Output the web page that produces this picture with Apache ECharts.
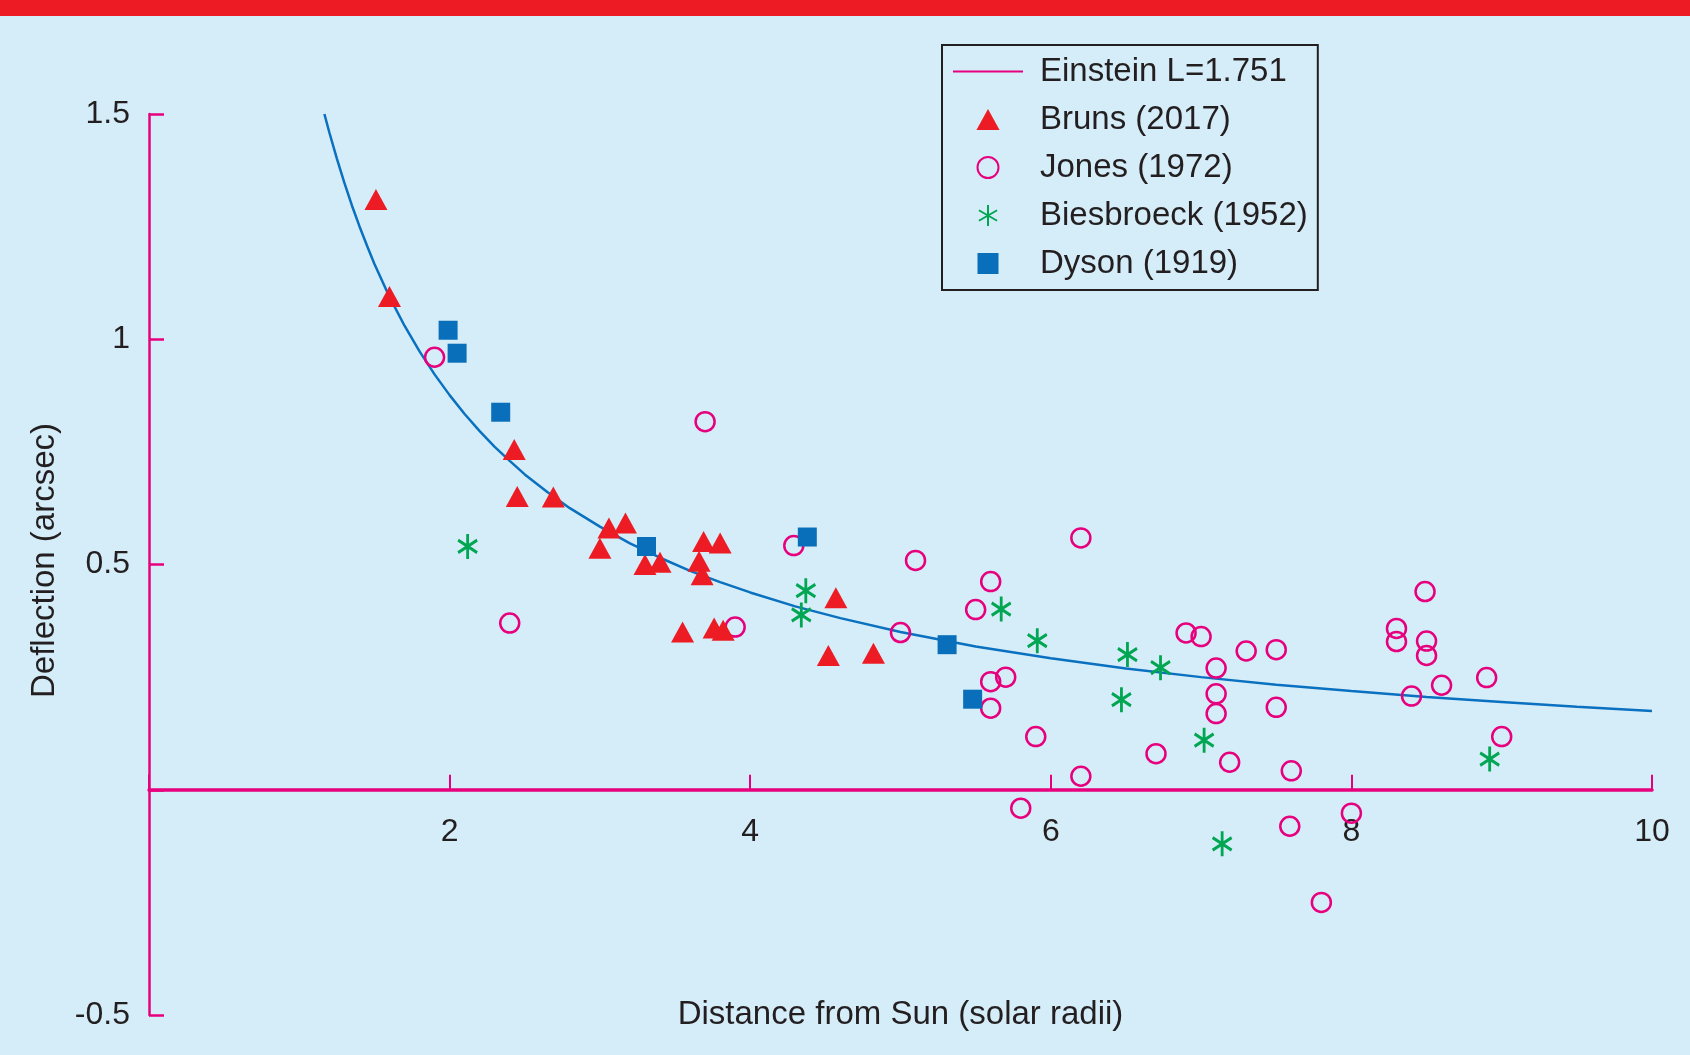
<!DOCTYPE html>
<html>
<head>
<meta charset="utf-8">
<script src="https://cdn.jsdelivr.net/npm/echarts@6/dist/echarts.min.js"></script>
<style>
html,body{margin:0;padding:0;background:#d5edf9}
#chart{width:1690px;height:1055px}
</style>
</head>
<body>
<div id="chart"></div>
<script>
// values: [distance (solar radii), deflection (arcsec)]
var einsteinCurve = [
	[1.167,1.500],[1.2,1.459],[1.25,1.401],[1.3,1.347],[1.35,1.297],[1.4,1.251],
	[1.45,1.208],[1.5,1.167],[1.6,1.094],[1.7,1.030],[1.8,0.973],[1.9,0.922],
	[2.0,0.876],[2.1,0.834],[2.2,0.796],[2.3,0.761],[2.4,0.730],[2.5,0.700],
	[2.65,0.661],[2.8,0.625],[3.0,0.584],[3.2,0.547],[3.4,0.515],[3.6,0.486],
	[3.8,0.461],[4.0,0.438],[4.3,0.407],[4.6,0.381],[5.0,0.350],[5.5,0.318],
	[6.0,0.292],[6.5,0.269],[7.0,0.250],[7.5,0.233],[8.0,0.219],[8.5,0.206],
	[9.0,0.195],[9.5,0.184],[10,0.175]
]
var brunsData = [
	[1.51,1.31],[1.60,1.095],[2.43,0.755],[2.45,0.651],[2.69,0.650],[3.00,0.536],
	[3.06,0.581],[3.17,0.592],[3.30,0.500],[3.40,0.505],[3.55,0.350],[3.66,0.507],
	[3.68,0.477],[3.69,0.551],[3.80,0.548],[3.76,0.359],[3.82,0.354],[4.52,0.298],
	[4.57,0.426],[4.82,0.303]
]
var jonesData = [
	[1.90,0.960],[2.40,0.370],[3.70,0.817],[3.90,0.361],[4.29,0.542],[5.10,0.509],
	[5.00,0.349],[5.60,0.462],[5.50,0.400],[6.20,0.559],[5.70,0.250],[5.60,0.240],
	[5.60,0.181],[5.90,0.118],[6.70,0.080],[6.20,0.030],[5.80,-0.041],[6.90,0.348],
	[7.00,0.340],[7.30,0.308],[7.50,0.311],[7.10,0.270],[7.10,0.213],[7.10,0.169],
	[7.50,0.183],[7.19,0.061],[7.60,0.042],[7.59,-0.081],[7.80,-0.250],[8.00,-0.052],
	[8.30,0.358],[8.30,0.329],[8.49,0.440],[8.50,0.330],[8.50,0.298],[8.60,0.232],
	[8.40,0.208],[8.90,0.249],[9.00,0.118]
]
var biesbroeckData = [
	[2.12,0.540],[4.37,0.442],[4.34,0.388],[5.67,0.401],[5.91,0.331],[6.51,0.300],
	[6.73,0.271],[6.47,0.200],[7.02,0.110],[7.14,-0.120],[8.92,0.068]
]
var dysonData = [
	[1.99,1.02],[2.05,0.969],[2.34,0.838],[3.31,0.540],[4.38,0.561],[5.31,0.322],[5.48,0.201]
]
var seriesNames = ['Einstein L=1.751','Bruns (2017)','Jones (1972)','Biesbroeck (1952)','Dyson (1919)']

var axisColor = '#e6007e'
var textColor = '#231f20'
var fontFamily = '"Liberation Sans", Arial, sans-serif'

// grid box and y range; x axis is moved up to y = 0
var gridTop = 114, gridBottom = 40
var yMin = -0.5, yMax = 1.5
var plotHeight = 1055 - gridTop - gridBottom
var xAxisOffset = -plotHeight * (0 - yMin) / (yMax - yMin)

// symbols as paths so the legend keeps their shape
var triangleIcon = 'path://M11,0L22,20L0,20Z'
var squareIcon = 'path://M0,0L10,0L10,10L0,10Z'
var starIcon = 'path://M10,0L10,20M1.34,5L18.66,15M1.34,15L18.66,5'

var myChart = echarts.init(document.getElementById('chart'))
var option = {
	animation: false,
	backgroundColor: '#d5edf9',
	textStyle: { fontFamily: fontFamily, color: textColor },
	graphic: [{
		type: 'rect',
		left: 0, top: 0,
		shape: { width: 1690, height: 16 },
		style: { fill: '#ed1c24' }
	}],
	grid: {
		left: 149,
		right: 38,
		top: gridTop,
		bottom: gridBottom,
		containLabel: false,
		outerBoundsMode: 'none'
	},
	legend: {
		orient: 'vertical',
		left: 942,
		top: 45,
		padding: [10, 10, 10, 10],
		itemWidth: 70,
		itemHeight: 21,
		itemGap: 15,
		symbolKeepAspect: true,
		borderColor: textColor,
		borderWidth: 2,
		backgroundColor: '#d5edf9',
		textStyle: { fontSize: 33, color: textColor, fontFamily: fontFamily, padding: [0, 0, 0, 12] },
		data: [
			{
				name: seriesNames[0],
				lineStyle: { color: axisColor, width: 2 },
				itemStyle: { color: 'rgba(0,0,0,0)', borderColor: 'rgba(0,0,0,0)', borderWidth: 0 }
			},
			seriesNames[1], seriesNames[2], seriesNames[3], seriesNames[4]
		]
	},
	xAxis: {
		type: 'value',
		min: 0,
		max: 10,
		interval: 2,
		offset: xAxisOffset,
		name: 'Distance from Sun (solar radii)',
		nameLocation: 'middle',
		nameGap: 209,
		nameTextStyle: { fontSize: 33, color: textColor },
		splitLine: { show: false },
		axisLine: { onZero: false, lineStyle: { color: axisColor, width: 3.5 } },
		axisTick: { inside: true, length: 15, lineStyle: { color: axisColor, width: 2 } },
		axisLabel: {
			fontSize: 32,
			color: textColor,
			margin: 26,
			formatter: function(v) { return v === 0 ? '' : String(v) }
		}
	},
	yAxis: {
		type: 'value',
		min: yMin,
		max: yMax,
		interval: 0.5,
		name: 'Deflection (arcsec)',
		nameLocation: 'middle',
		nameGap: 88,
		nameTextStyle: { fontSize: 33, color: textColor, padding: [0, 0, 0, 8] },
		splitLine: { show: false },
		axisLine: { onZero: false, lineStyle: { color: axisColor, width: 2.5 } },
		axisTick: { inside: true, length: 15, lineStyle: { color: axisColor, width: 2.5 } },
		axisLabel: {
			fontSize: 32,
			color: textColor,
			margin: 19,
			padding: [10, 0, 0, 0],
			formatter: function(v) { return v === 0 ? '' : String(v) }
		}
	},
	series: [
		{
			name: seriesNames[0],
			type: 'line',
			data: einsteinCurve,
			smooth: false,
			symbol: 'none',
			showSymbol: false,
			itemStyle: { color: '#0a70c0' },
			lineStyle: { color: '#0a70c0', width: 2.5 },
			z: 1
		},
		{
			name: seriesNames[2],
			type: 'scatter',
			data: jonesData,
			symbol: 'circle',
			symbolSize: 19,
			itemStyle: { color: 'rgba(0,0,0,0)', borderColor: axisColor, borderWidth: 2.5, opacity: 1 },
			z: 2
		},
		{
			name: seriesNames[3],
			type: 'scatter',
			data: biesbroeckData,
			symbol: starIcon,
			symbolSize: [22, 25],
			symbolKeepAspect: true,
			itemStyle: { color: 'rgba(0,0,0,0)', borderColor: '#00a651', borderWidth: 3, opacity: 1 },
			z: 3
		},
		{
			name: seriesNames[1],
			type: 'scatter',
			data: brunsData,
			symbol: triangleIcon,
			symbolSize: [23, 21],
			itemStyle: { color: '#ed1c24', opacity: 1 },
			z: 4
		},
		{
			name: seriesNames[4],
			type: 'scatter',
			data: dysonData,
			symbol: squareIcon,
			symbolSize: 19,
			itemStyle: { color: '#0a6fba', opacity: 1 },
			z: 5
		}
	]
}
myChart.setOption(option)
</script>
</body>
</html>
